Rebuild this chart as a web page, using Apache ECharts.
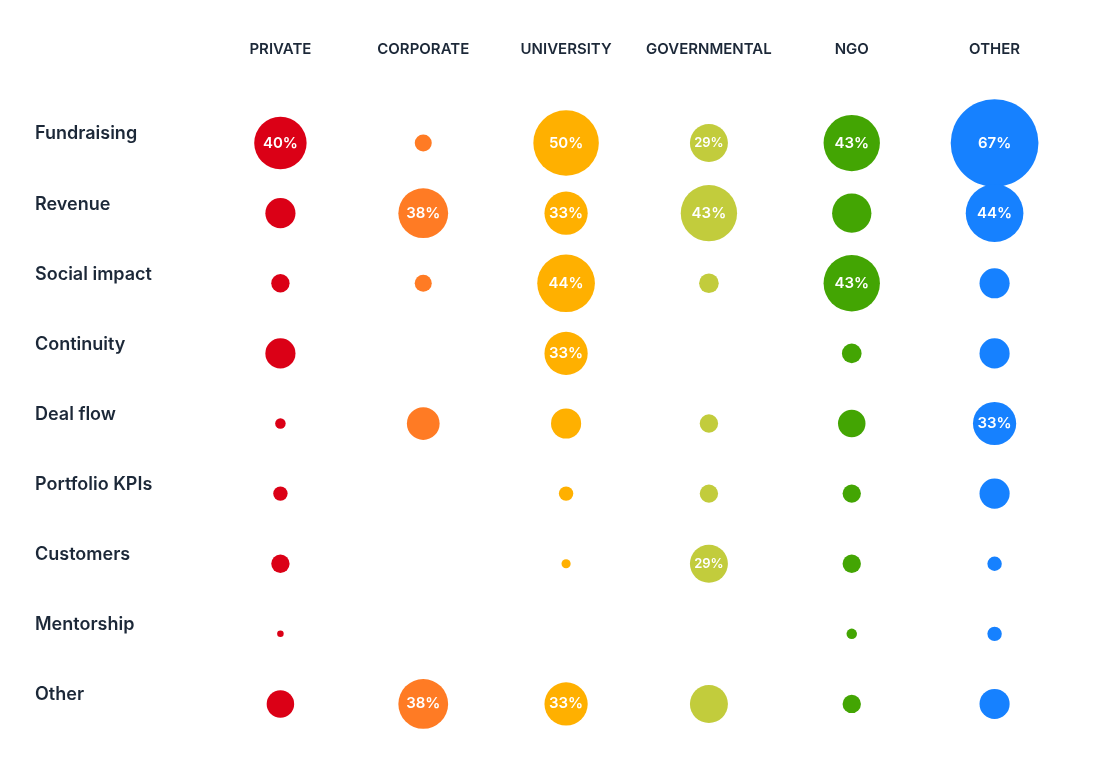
<!DOCTYPE html>
<html>
<head>
<meta charset="utf-8">
<script src="https://cdn.jsdelivr.net/npm/echarts@6/dist/echarts.min.js"></script>
<style>
  html, body { margin: 0; padding: 0; background: #fff; }
  #main { width: 1120px; height: 764px; }
</style>
</head>
<body>
<div id="main"></div>
<script>
// columns / rows
const cols = ['PRIVATE', 'CORPORATE', 'UNIVERSITY', 'GOVERNMENTAL', 'NGO', 'OTHER']
const rows = ['Fundraising', 'Revenue', 'Social impact', 'Continuity', 'Deal flow',
    'Portfolio KPIs', 'Customers', 'Mentorship', 'Other']

// share (%) per row, one array per column; null = no bubble
const privateVals      = [40, 23, 14, 23, 8, 11, 14, 5, 21]
const corporateVals    = [13, 38, 13, null, 25, null, null, null, 38]
const universityVals   = [50, 33, 44, 33, 23, 11, 7, null, 33]
const governmentalVals = [29, 43, 15, null, 14, 14, 29, null, 29]
const ngoVals          = [43, 30, 43, 15, 21, 14, 14, 8, 14]
const otherVals        = [67, 44, 23, 23, 33, 23, 11, 11, 23]

// which bubbles carry a printed percentage
const privateLab      = [1, 0, 0, 0, 0, 0, 0, 0, 0]
const corporateLab    = [0, 1, 0, 0, 0, 0, 0, 0, 1]
const universityLab   = [1, 1, 1, 1, 0, 0, 0, 0, 1]
const governmentalLab = [1, 1, 0, 0, 0, 0, 1, 0, 0]
const ngoLab          = [1, 0, 1, 0, 0, 0, 0, 0, 0]
const otherLab        = [1, 1, 0, 0, 1, 0, 0, 0, 0]

const colors = ['#db0016', '#ff7b24', '#ffb000', '#c2cc3c', '#43a503', '#1681ff']

const allVals = [privateVals, corporateVals, universityVals, governmentalVals, ngoVals, otherVals]
const allLabs = [privateLab, corporateLab, universityLab, governmentalLab, ngoLab, otherLab]

let series = cols.map((c, ci) => {
    let data = []
    allVals[ci].forEach((v, ri) => {
        if (v == null) return
        data.push({
            value: [c, rows[ri], v],
            label: {
                show: allLabs[ci][ri] == 1,
                fontSize: v < 30 ? 13 : 15
            }
        })
    })
    return {
        type: 'scatter',
        name: c,
        data: data,
        symbolSize: function (val) {
            return val[2] * 1.31
        },
        itemStyle: { color: colors[ci], opacity: 1 },
        label: {
            position: 'inside',
            color: '#fff',
            fontFamily: 'Inter',
            fontWeight: 600,
            formatter: p => p.value[2] + '%'
        },
        emphasis: { disabled: true }
    }
})

let chart = echarts.init(document.getElementById('main'))
chart.setOption({
    backgroundColor: '#fff',
    animation: false,
    grid: { left: 209, right: 54, top: 108, bottom: 25 },
    xAxis: {
        type: 'category',
        data: cols,
        position: 'top',
        axisLine: { show: false },
        axisTick: { show: false },
        splitLine: { show: false },
        axisLabel: {
            interval: 0,
            margin: 51,
            color: '#1c2838',
            fontFamily: 'Inter',
            fontSize: 15,
            fontWeight: 600
        }
    },
    yAxis: {
        type: 'category',
        data: rows,
        inverse: true,
        axisLine: { show: false },
        axisTick: { show: false },
        splitLine: { show: false },
        axisLabel: {
            interval: 0,
            margin: 174,
            align: 'left',
            verticalAlign: 'bottom',
            color: '#1c2838',
            fontFamily: 'Inter',
            fontSize: 18,
            fontWeight: 600
        }
    },
    series: series
})
</script>
</body>
</html>
